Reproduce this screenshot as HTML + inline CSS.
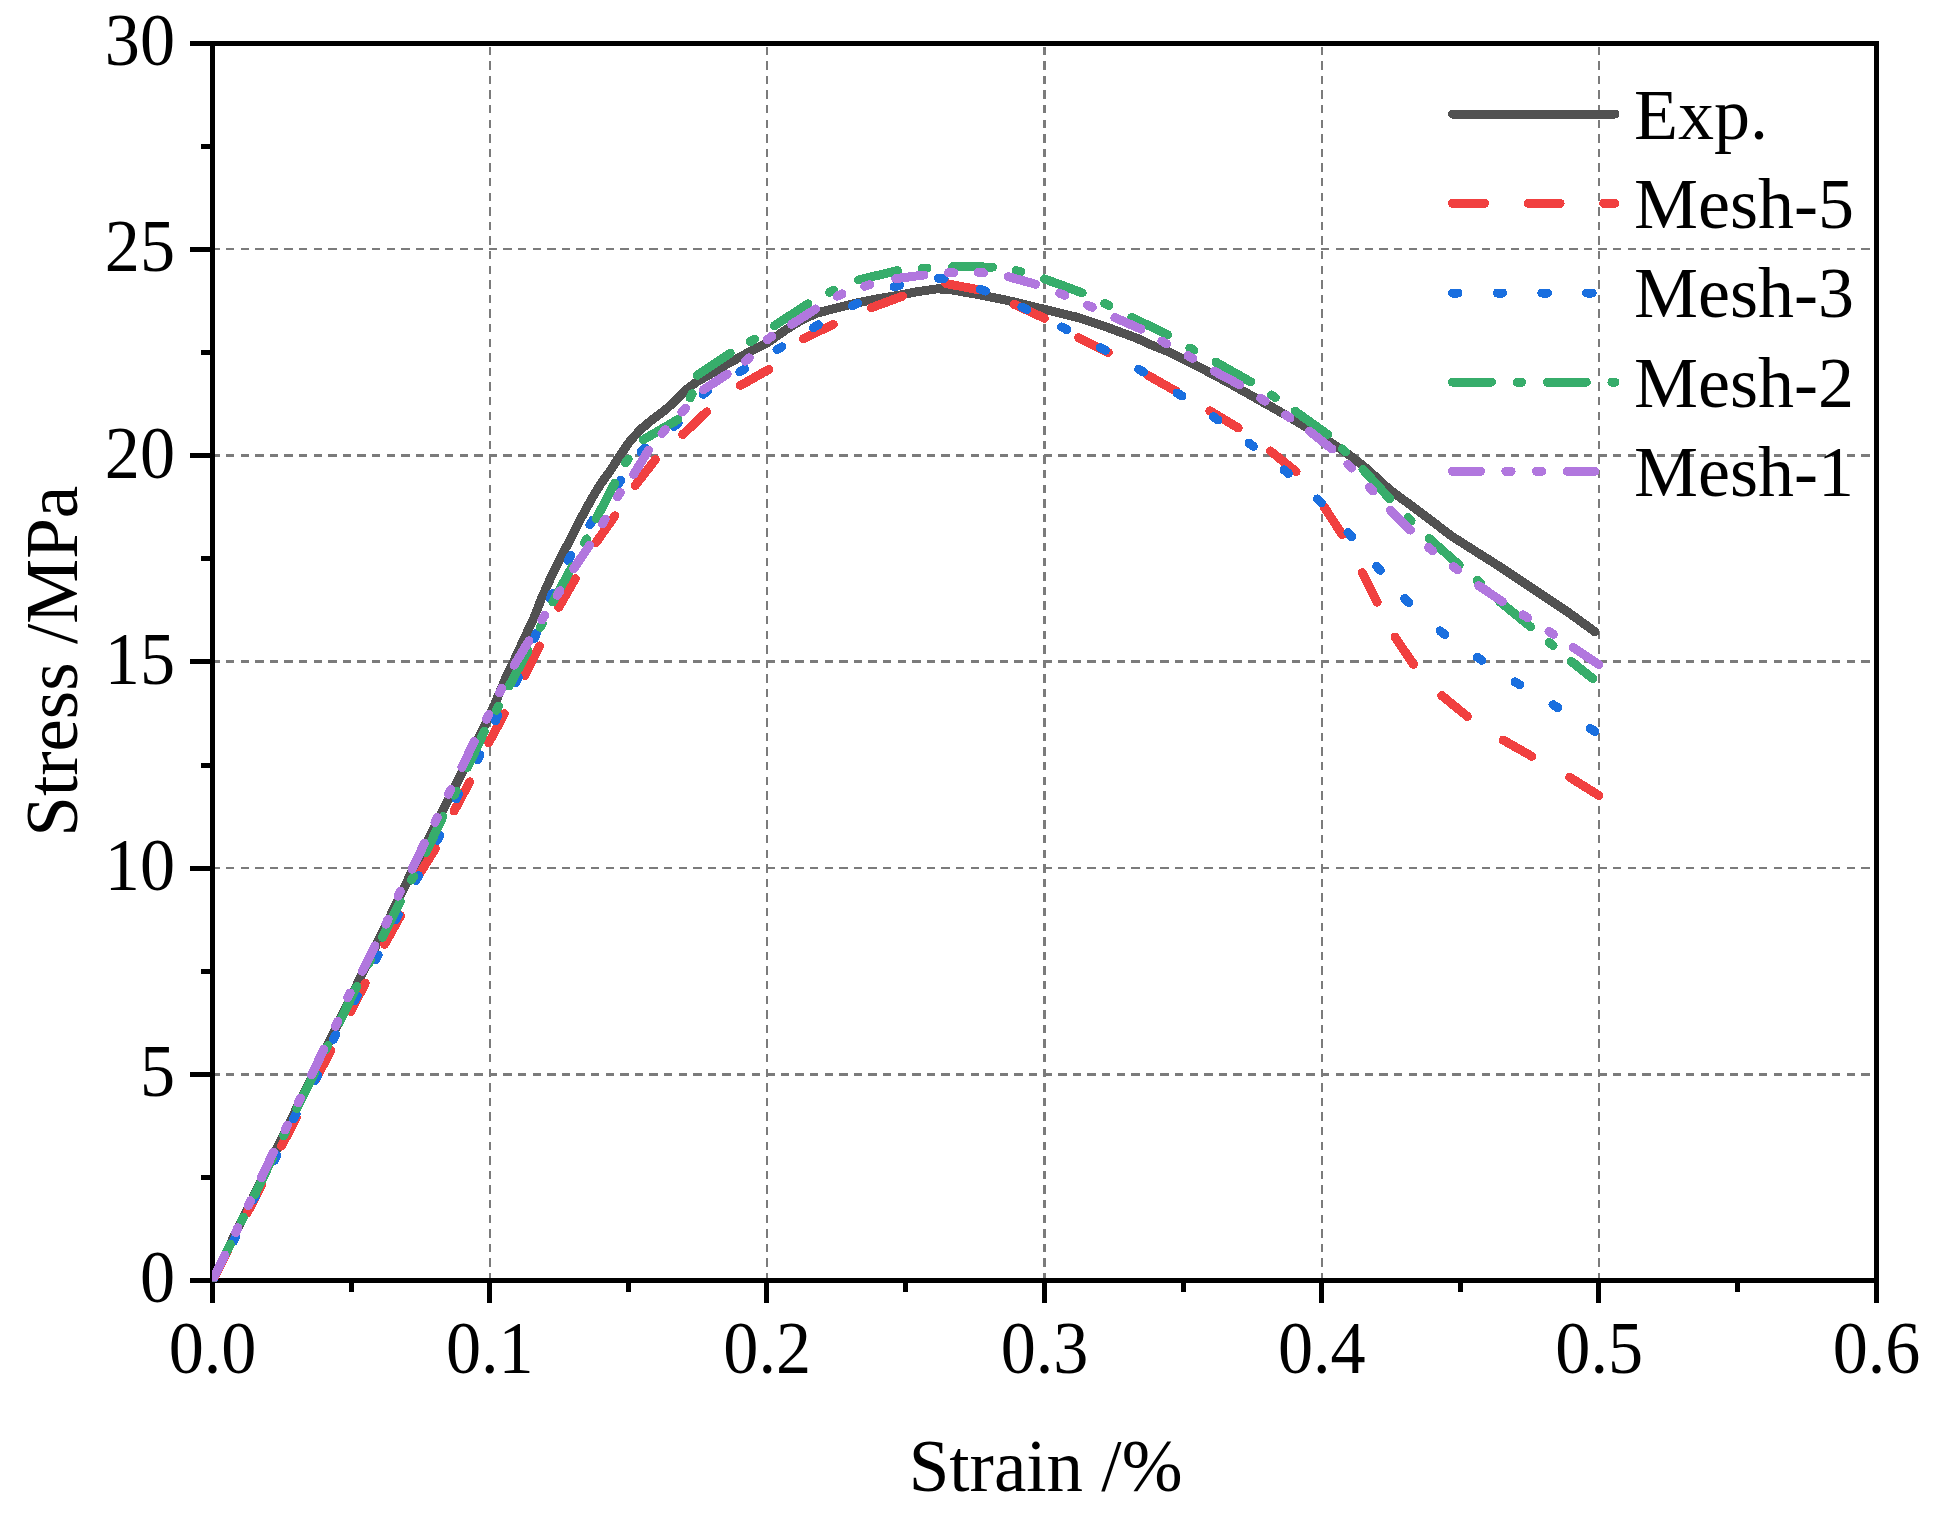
<!DOCTYPE html>
<html lang="en"><head><meta charset="utf-8"><title>Stress-Strain curves</title>
<style>html,body{margin:0;padding:0;background:#fff}svg{display:block}text{font-family:"Liberation Serif","Times New Roman",serif;font-size:72px;fill:#000}</style></head><body>
<svg width="1942" height="1520" viewBox="0 0 1942 1520">
<rect width="1942" height="1520" fill="#fff"/>
<defs><clipPath id="c"><rect x="212" y="43" width="1665" height="1238.5"/></clipPath></defs>
<g stroke="#7b7b7b" fill="none" stroke-dasharray="8.4 6.2" shape-rendering="crispEdges">
<line x1="490" y1="46.6" x2="490" y2="1278" stroke-width="2"/>
<line x1="767" y1="46.6" x2="767" y2="1278" stroke-width="2"/>
<line x1="1044.5" y1="46.6" x2="1044.5" y2="1278" stroke-width="3"/>
<line x1="1322" y1="46.6" x2="1322" y2="1278" stroke-width="2"/>
<line x1="1599" y1="46.6" x2="1599" y2="1278" stroke-width="2"/>
<line x1="211.4" y1="249" x2="1874" y2="249" stroke-width="2"/>
<line x1="211.4" y1="455.5" x2="1874" y2="455.5" stroke-width="3"/>
<line x1="211.4" y1="661.5" x2="1874" y2="661.5" stroke-width="3"/>
<line x1="211.4" y1="868" x2="1874" y2="868" stroke-width="2"/>
<line x1="211.4" y1="1074.5" x2="1874" y2="1074.5" stroke-width="3"/>
</g>
<g stroke="#000" stroke-width="5" fill="none">
<line x1="190" y1="43.5" x2="1879" y2="43.5"/>
<line x1="190" y1="1280.5" x2="1879" y2="1280.5"/>
<line x1="212.5" y1="41" x2="212.5" y2="1303"/>
<line x1="1876.5" y1="41" x2="1876.5" y2="1303"/>
<line x1="190" y1="1074.5" x2="212" y2="1074.5"/>
<line x1="190" y1="868.5" x2="212" y2="868.5"/>
<line x1="190" y1="661.5" x2="212" y2="661.5"/>
<line x1="190" y1="455.5" x2="212" y2="455.5"/>
<line x1="190" y1="249.5" x2="212" y2="249.5"/>
<line x1="201" y1="1177.5" x2="212" y2="1177.5"/>
<line x1="201" y1="971.5" x2="212" y2="971.5"/>
<line x1="201" y1="765.5" x2="212" y2="765.5"/>
<line x1="201" y1="558.5" x2="212" y2="558.5"/>
<line x1="201" y1="352.5" x2="212" y2="352.5"/>
<line x1="201" y1="146.5" x2="212" y2="146.5"/>
<line x1="489.5" y1="1281" x2="489.5" y2="1303"/>
<line x1="766.5" y1="1281" x2="766.5" y2="1303"/>
<line x1="1044.5" y1="1281" x2="1044.5" y2="1303"/>
<line x1="1321.5" y1="1281" x2="1321.5" y2="1303"/>
<line x1="1598.5" y1="1281" x2="1598.5" y2="1303"/>
<line x1="351.5" y1="1281" x2="351.5" y2="1292"/>
<line x1="628.5" y1="1281" x2="628.5" y2="1292"/>
<line x1="905.5" y1="1281" x2="905.5" y2="1292"/>
<line x1="1183.5" y1="1281" x2="1183.5" y2="1292"/>
<line x1="1460.5" y1="1281" x2="1460.5" y2="1292"/>
<line x1="1737.5" y1="1281" x2="1737.5" y2="1292"/>
</g>
<g clip-path="url(#c)" fill="none" stroke-width="9" stroke-linecap="round" stroke-linejoin="round" shape-rendering="crispEdges">
<polyline stroke="#515151" points="212.5,1280.5 353.9,991.0 410.4,874.7 445.5,805.4 462.4,771.8 493.0,708.2 505.8,677.9 513.7,661.4 525.5,635.8 534.7,616.1 541.3,598.9 551.8,575.3 562.4,554.2 571.6,537.1 579.5,521.0 592.1,497.9 600.5,484.2 611.1,469.5 620.5,454.7 630.0,441.1 640.5,429.5 653.2,418.9 665.8,409.5 677.4,398.9 687.9,388.4 696.3,382.1 711.1,373.7 726.8,364.2 740.5,356.8 750.0,351.6 766.6,343.4 786.3,329.5 802.1,319.7 817.9,312.8 837.6,307.8 857.4,302.9 877.1,298.9 896.8,295.6 918.0,291.6 937.5,288.8 951.3,289.8 978.9,294.7 1008.6,300.7 1045.1,309.5 1077.6,317.4 1107.2,327.3 1136.8,338.2 1150.0,344.4 1169.7,352.3 1199.3,367.1 1228.9,382.9 1258.6,399.7 1288.2,416.4 1317.8,434.2 1347.4,453.5 1367.1,469.0 1390.0,490.0 1405.0,501.0 1427.4,517.6 1451.1,535.8 1474.7,550.8 1498.4,565.8 1522.1,581.6 1545.8,597.4 1569.5,613.2 1595.0,631.8"/>
<polyline stroke="#F14040" stroke-dasharray="32 43.6" points="212.5,1280.5 362.4,988.8 374.7,964.2"/>
<path stroke="#F14040" d="M384.5,944.4L400.6,915.7M417.9,876.4L435.5,848.4M454.1,811.0L469.7,781.9M488.7,742.8L504.4,713.7M524.8,675.6L539.4,646.0M558.8,607.3L575.2,578.7M595.8,542.8L614.8,515.9M635.1,485.7L655.4,459.6M682.8,434.5L706.7,411.8M740.4,385.5L769.0,369.3M803.6,338.7L833.2,324.3M871.5,307.7L902.5,296.1M945.8,283.4L978.2,289.8M1014.3,304.4L1044.3,318.2M1078.6,337.7L1108.2,352.5M1147.8,375.3L1176.5,391.5M1209.9,410.9L1238.1,427.9M1270.4,451.0L1296.1,471.7M1324.1,506.9L1342.2,534.6M1362.2,572.7L1377.1,602.1M1395.0,637.1L1413.5,664.4M1441.8,695.6L1467.4,716.5M1503.2,740.1L1531.8,756.3M1569.8,777.3L1599.0,795.5"/>
<path stroke="#1A6FDF" d="M211.2,1283.0L213.8,1278.0M233.4,1241.5L236.0,1236.5M253.2,1200.0L255.8,1195.0M274.3,1160.5L276.7,1155.5M293.5,1119.0L296.1,1114.0M315.0,1080.4L317.6,1075.4M333.3,1039.6L335.9,1034.6M354.7,1000.9L357.3,995.9M375.6,960.0L378.2,955.0M395.7,919.7L398.3,914.7M415.9,880.6L418.5,875.6M437.2,840.3L439.6,835.3M456.1,798.9L458.7,793.9M477.4,759.8L480.0,754.8M495.4,720.7L497.8,715.7M516.0,682.3L518.4,677.3M534.3,638.4L536.5,633.2M550.1,598.9L552.3,593.7M568.4,560.5L571.0,555.5M589.9,524.7L592.9,520.1M617.7,484.8L620.9,480.2M641.0,452.0L645.0,448.0M674.0,426.6L678.2,422.8M703.2,394.4L707.6,390.8M739.9,371.8L744.7,369.0M777.0,349.7L781.8,346.9M813.5,327.6L818.3,324.8M852.5,305.7L857.5,303.3M894.1,286.9L899.5,285.3M938.5,278.3L944.1,278.5M980.3,289.3L985.5,291.1M1021.8,307.0L1026.8,309.4M1061.7,327.0L1066.7,329.6M1100.4,347.6L1105.4,350.4M1138.8,369.3L1143.6,372.1M1177.1,393.0L1181.9,396.0M1213.4,416.8L1218.0,420.0M1249.0,443.0L1253.4,446.4M1284.0,469.9L1288.4,473.5M1317.3,498.9L1321.3,502.9M1348.0,532.4L1351.6,536.6M1376.7,566.2L1380.3,570.4M1404.7,598.4L1408.7,602.4M1440.2,630.9L1444.6,634.5M1477.2,657.1L1481.8,660.3M1515.0,681.8L1519.8,684.8M1553.0,704.7L1557.8,707.7M1590.1,728.4L1594.9,731.4"/>
<polyline stroke="#37AD6B" stroke-dasharray="40.3 25.4 4.6 25.4" points="212.5,1280.5 356.8,986.6 376.5,948.8"/>
<path stroke="#37AD6B" d="M382.5,937.3L400.4,901.6M411.6,880.1L413.8,876.1M426.0,852.5L443.0,816.4M454.2,795.2L456.2,791.0M467.4,767.6L484.4,731.4M496.4,710.2L498.6,706.2M509.2,686.0L528.0,650.7M540.3,627.3L542.3,623.3M552.8,602.0L572.0,566.9M584.5,543.1L586.5,538.9M596.3,518.5L614.8,483.1M625.5,463.0L628.1,459.2M643.2,439.8L677.8,419.6M690.1,397.9L692.1,393.7M697.1,375.3L730.3,353.1M750.4,341.6L754.4,339.2M774.5,325.6L808.0,303.9M829.6,292.4L833.8,290.4M858.6,279.9L897.6,270.6M922.3,268.4L926.9,268.0M952.7,266.7L992.7,267.1M1016.2,270.6L1020.6,271.6M1044.5,278.9L1082.1,292.8M1104.7,303.6L1108.9,305.6M1131.8,317.3L1167.7,334.9M1189.9,348.1L1193.9,350.3M1216.0,362.2L1250.8,381.9M1271.5,395.0L1275.3,397.6M1295.1,411.2L1327.6,434.5M1342.4,448.8L1345.6,452.0M1362.9,469.4L1389.8,498.9M1407.9,517.7L1411.1,520.9M1429.1,538.5L1459.1,565.0M1477.1,580.2L1480.5,583.2M1499.6,601.5L1530.6,626.8M1549.5,642.5L1553.1,645.5M1571.4,661.5L1592.8,678.6"/>
<path stroke="#B177DE" d="M212.5,1280.5L224.8,1255.0M235.7,1232.5L237.9,1227.7M248.2,1205.6L250.4,1200.8M261.3,1177.9L273.5,1152.1M285.0,1129.9L287.4,1125.1M298.1,1102.9L300.5,1098.1M311.7,1075.0L323.9,1049.2M335.5,1026.3L337.7,1021.5M347.7,997.9L350.1,993.1M362.2,971.3L374.9,945.9M385.9,924.1L388.1,919.3M398.2,896.1L400.4,891.3M412.2,869.1L424.4,843.4M435.0,822.3L437.4,817.5M448.4,794.4L450.8,789.6M461.9,767.4L474.2,741.6M486.4,719.4L488.8,714.6M499.5,693.0L501.9,688.2M514.2,665.2L529.0,640.8M541.9,619.9L544.7,615.3M557.2,595.3L560.0,590.7M573.7,568.8L589.5,545.2M602.5,523.8L605.1,519.2M617.5,496.9L620.3,492.5M633.6,474.4L648.6,450.2M662.0,433.6L665.4,429.6M681.9,412.1L685.5,408.3M703.4,389.7L727.3,374.1M745.3,361.2L749.3,357.8M767.4,339.6L771.6,336.4M791.6,324.4L815.6,309.0M837.2,296.1L842.0,293.9M864.7,286.3L869.7,284.7M895.8,278.6L924.0,275.0M948.4,272.8L953.6,272.6M978.3,272.4L983.5,272.8M1008.2,276.7L1035.6,284.2M1059.7,293.3L1064.7,295.3M1087.5,305.1L1092.3,307.3M1114.9,317.6L1141.0,329.1M1161.9,341.1L1166.5,343.7M1188.0,355.7L1192.6,358.3M1214.4,371.3L1239.5,384.7M1260.7,398.2L1265.1,401.2M1285.6,414.9L1290.0,417.9M1309.6,431.2L1331.9,449.0M1347.8,464.3L1351.6,468.1M1369.3,487.2L1372.9,491.0M1390.3,510.1L1410.5,530.2M1428.6,547.5L1432.6,550.9M1453.4,566.6L1457.6,569.8M1478.6,585.6L1502.3,601.5M1523.1,614.9L1527.5,617.7M1549.0,631.6L1553.4,634.4M1573.1,647.5L1599.0,664.7"/>
</g>
<g fill="none" stroke-width="9" stroke-linecap="round" shape-rendering="crispEdges">
<line stroke="#515151" x1="1452.5" y1="114" x2="1615" y2="114"/>
<line stroke="#F14040" stroke-dasharray="32 43.6" x1="1452.5" y1="203.3" x2="1615" y2="203.3"/>
<line stroke="#1A6FDF" stroke-dasharray="5.6 39.1" x1="1452.5" y1="293" x2="1615" y2="293"/>
<line stroke="#37AD6B" stroke-dasharray="39 25.6 4.6 25.6" x1="1452.5" y1="382.2" x2="1615" y2="382.2"/>
<line stroke="#B177DE" stroke-dasharray="28 25.3 5.3 25.3 5.3 25.3" x1="1452.5" y1="471.3" x2="1615" y2="471.3"/>
</g>
<text x="1634" y="139.0">Exp.</text>
<text x="1634" y="228.2">Mesh-5</text>
<text x="1634" y="317.4">Mesh-3</text>
<text x="1634" y="406.6">Mesh-2</text>
<text x="1634" y="495.8">Mesh-1</text>
<text transform="translate(175,1302.2) scale(0.975,1.037)" text-anchor="end">0</text>
<text transform="translate(175,1096.0) scale(0.975,1.037)" text-anchor="end">5</text>
<text transform="translate(175,889.9) scale(0.975,1.037)" text-anchor="end">10</text>
<text transform="translate(175,683.7) scale(0.975,1.037)" text-anchor="end">15</text>
<text transform="translate(175,477.5) scale(0.975,1.037)" text-anchor="end">20</text>
<text transform="translate(175,271.4) scale(0.975,1.037)" text-anchor="end">25</text>
<text transform="translate(175,65.2) scale(0.975,1.037)" text-anchor="end">30</text>
<text transform="translate(212.5,1373.2) scale(0.975,1.037)" text-anchor="middle">0.0</text>
<text transform="translate(489.8,1373.2) scale(0.975,1.037)" text-anchor="middle">0.1</text>
<text transform="translate(767.2,1373.2) scale(0.975,1.037)" text-anchor="middle">0.2</text>
<text transform="translate(1044.5,1373.2) scale(0.975,1.037)" text-anchor="middle">0.3</text>
<text transform="translate(1321.8,1373.2) scale(0.975,1.037)" text-anchor="middle">0.4</text>
<text transform="translate(1599.2,1373.2) scale(0.975,1.037)" text-anchor="middle">0.5</text>
<text transform="translate(1876.5,1373.2) scale(0.975,1.037)" text-anchor="middle">0.6</text>
<text x="1045.6" y="1490.6" text-anchor="middle" style="font-size:73px">Strain /%</text>
<text transform="translate(76.8,661.3) rotate(-90)" text-anchor="middle" style="font-size:73px">Stress /MPa</text>
</svg></body></html>
